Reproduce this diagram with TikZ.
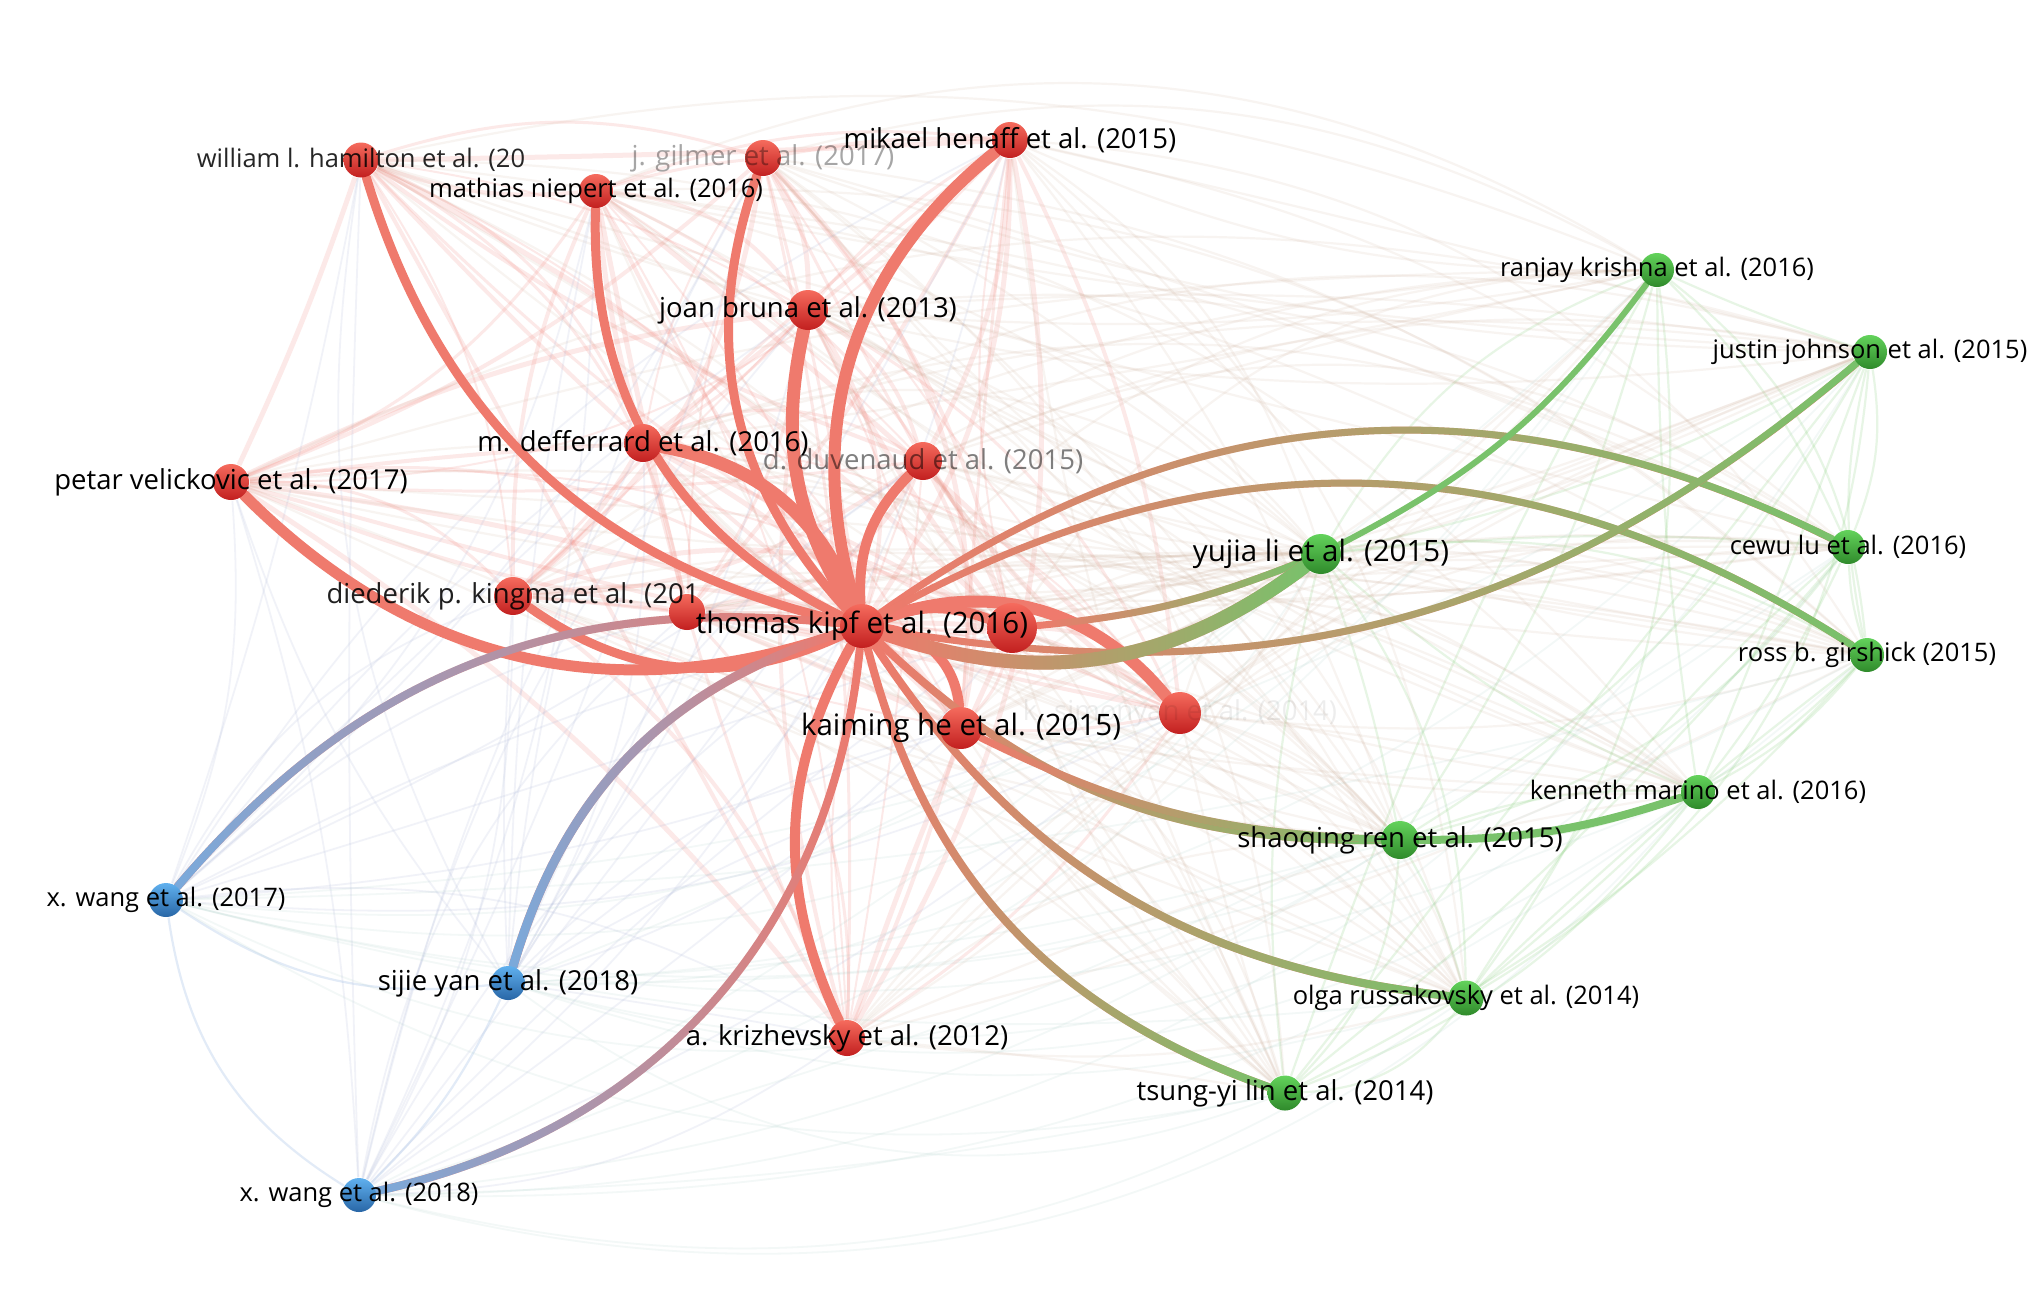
\documentclass[tikz,border=0pt]{standalone}
\usepackage{fontspec}
\setmainfont{Open Sans}
\usetikzlibrary{fadings}
\tikzfading[name=fadeToRight, left color=transparent!100, right color=transparent!0]
\tikzfading[name=fadeToLeft, left color=transparent!0, right color=transparent!100]
\pgfdeclarelayer{bg}
\pgfdeclarelayer{edges}
\pgfsetlayers{bg,edges,main}
\definecolor{nRt}{HTML}{F56B5D}
\definecolor{nRb}{HTML}{C21F1F}
\definecolor{nGt}{HTML}{63D25B}
\definecolor{nGb}{HTML}{2F8A2B}
\definecolor{nBt}{HTML}{60B0EE}
\definecolor{nBb}{HTML}{2866A6}
\definecolor{eR}{HTML}{EF7A6D}
\definecolor{eG}{HTML}{79C26B}
\definecolor{eB}{HTML}{7AAADC}
\definecolor{fR}{HTML}{F07A70}
\definecolor{fG}{HTML}{7CCB70}
\definecolor{fB}{HTML}{8FB0E0}
\definecolor{fRG}{HTML}{C8A890}
\definecolor{fRB}{HTML}{A8B4D8}
\definecolor{fGB}{HTML}{A0C8C0}
\tikzset{
  rn/.style={circle, inner sep=0pt, minimum size=#1*0.25pt, top color=nRt, bottom color=nRb, draw=none},
  rn/.default=34,
  gn/.style={circle, inner sep=0pt, minimum size=#1*0.25pt, top color=nGt, bottom color=nGb, draw=none},
  gn/.default=34,
  bn/.style={circle, inner sep=0pt, minimum size=#1*0.25pt, top color=nBt, bottom color=nBb, draw=none},
  bn/.default=34,
  labS/.style={inner sep=0pt, text=black, font=\fontsize{6.375}{6.5}\selectfont},
  labM/.style={inner sep=0pt, text=black, font=\fontsize{6.875}{7}\selectfont},
  labL/.style={inner sep=0pt, text=black, font=\fontsize{7.375}{7.5}\selectfont},
  strongR/.style={draw=eR, line width=#1*0.25pt, line cap=round},
  strongG/.style={draw=eG, line width=#1*0.25pt, line cap=round},
  faintR/.style={draw=fR, opacity=0.16, line width=#1*0.25pt},
  faintG/.style={draw=fG, opacity=0.18, line width=0.55pt},
  faintB/.style={draw=fB, opacity=0.25, line width=0.55pt},
  faintRG/.style={draw=fRG, opacity=0.12, line width=0.55pt},
  faintRB/.style={draw=fRB, opacity=0.16, line width=0.45pt},
  faintGB/.style={draw=fGB, opacity=0.12, line width=0.45pt},
}
\newcommand{\gradedge}[7]{%
  \draw[draw=#1, line width=#4*0.25pt, line cap=round] (#5) to[#6] (#7);
  \draw[draw=#2, line width=#4*0.25pt, line cap=round, path fading=#3] (#5) to[#6] (#7);}
\def\Rlist{hamilton,gilmer,niepert,henaff,bruna,defferrard,duvenaud,velickovic,kingma,nA,kipf,nB,kaiming,simonyan,krizhevsky}
\def\Glist{yujia,ranjay,justin,cewu,ross,marino,shaoqing,olga,tsung}
\def\Blist{xwangA,sijie,xwangB}
\begin{document}
\begin{tikzpicture}[x=0.25pt,y=-0.25pt]
\useasboundingbox (0,0) rectangle (2042,1298);
\begin{pgfonlayer}{bg}
\fill[white] (0,0) rectangle (2042,1298);
\end{pgfonlayer}
% ---------- nodes ----------
\node[rn=35] (hamilton) at (361,160) {};
\node[rn=36] (gilmer) at (763,158) {};
\node[rn=34] (niepert) at (596,191) {};
\node[rn=36] (henaff) at (1010,140) {};
\node[rn=40] (bruna) at (808,310) {};
\node[rn=38] (defferrard) at (643,443) {};
\node[rn=38] (duvenaud) at (923,461) {};
\node[rn=36] (velickovic) at (231,482) {};
\node[rn=38] (kingma) at (513,596) {};
\node[rn=36] (nA) at (687,612) {};
\node[rn=44] (kipf) at (862,626) {};
\node[rn=50] (nB) at (1012,628) {};
\node[rn=42] (kaiming) at (961,728) {};
\node[rn=42] (simonyan) at (1180,713) {};
\node[rn=36] (krizhevsky) at (847,1038) {};
\node[gn=40] (yujia) at (1321,554) {};
\node[gn=34] (ranjay) at (1657,270) {};
\node[gn=34] (justin) at (1870,352) {};
\node[gn=34] (cewu) at (1848,547) {};
\node[gn=34] (ross) at (1867,655) {};
\node[gn=34] (marino) at (1698,792) {};
\node[gn=38] (shaoqing) at (1400,840) {};
\node[gn=35] (olga) at (1466,998) {};
\node[gn=35] (tsung) at (1285,1093) {};
\node[bn=34] (xwangA) at (166,900) {};
\node[bn=34] (sijie) at (508,983) {};
\node[bn=34] (xwangB) at (359,1195) {};
% ---------- labels ----------
\node[labS, text opacity=0.85] (hamilton-l) at (hamilton) {william l. hamilton et al. (20};
\node[labM, text opacity=0.35] (gilmer-l) at (gilmer) {j. gilmer et al. (2017)};
\node[labS] (niepert-l) at (niepert) {mathias niepert et al. (2016)};
\node[labM] (henaff-l) at (henaff) {mikael henaff et al. (2015)};
\node[labM] (bruna-l) at (bruna) {joan bruna et al. (2013)};
\node[labM] (defferrard-l) at (defferrard) {m. defferrard et al. (2016)};
\node[labM, text opacity=0.5] (duvenaud-l) at (duvenaud) {d. duvenaud et al. (2015)};
\node[labM] (velickovic-l) at (velickovic) {petar velickovic et al. (2017)};
\node[labM, text opacity=0.88] (kingma-l) at (kingma) {diederik p. kingma et al. (201};
\node[labL] (kipf-l) at (kipf) {thomas kipf et al. (2016)};
\node[labL] (kaiming-l) at (kaiming) {kaiming he et al. (2015)};
\node[labM, text opacity=0.07] (simonyan-l) at (simonyan) {k. simonyan et al. (2014)};
\node[labM] (krizhevsky-l) at (krizhevsky) {a. krizhevsky et al. (2012)};
\node[labL] (yujia-l) at (yujia) {yujia li et al. (2015)};
\node[labS] (ranjay-l) at (ranjay) {ranjay krishna et al. (2016)};
\node[labS] (justin-l) at (justin) {justin johnson et al. (2015)};
\node[labS] (cewu-l) at (cewu) {cewu lu et al. (2016)};
\node[labS] (ross-l) at (ross) {ross b. girshick (2015)};
\node[labS] (marino-l) at (marino) {kenneth marino et al. (2016)};
\node[labM] (shaoqing-l) at (shaoqing) {shaoqing ren et al. (2015)};
\node[labS] (olga-l) at (olga) {olga russakovsky et al. (2014)};
\node[labM] (tsung-l) at (tsung) {tsung-yi lin et al. (2014)};
\node[labS] (xwangA-l) at (xwangA) {x. wang et al. (2017)};
\node[labM] (sijie-l) at (sijie) {sijie yan et al. (2018)};
\node[labS] (xwangB-l) at (xwangB) {x. wang et al. (2018)};
% ---------- edges ----------
\begin{pgfonlayer}{edges}
\foreach \a [count=\i] in \Rlist {
  \foreach \b [count=\j] in \Rlist {
    \ifnum\j>\i
      \pgfmathtruncatemacro{\bb}{mod(\i*7+\j*11,40)-12}
      \pgfmathtruncatemacro{\ww}{mod(\i*3+\j*5,4)+2}
      \draw[faintR=\ww] (\a) to[bend left=\bb] (\b);
    \fi
  }
}
\foreach \a [count=\i] in \Glist {
  \foreach \b [count=\j] in \Glist {
    \ifnum\j>\i
      \pgfmathtruncatemacro{\bb}{mod(\i*5+\j*13,40)-12}
      \draw[faintG] (\a) to[bend left=\bb] (\b);
    \fi
  }
}
\draw[faintB] (xwangA) to[bend right=20] (sijie);
\draw[faintB] (xwangA) to[bend right=25] (xwangB);
\draw[faintB] (sijie) to[bend left=10] (xwangB);
\foreach \a [count=\i] in \Rlist {
  \foreach \b [count=\j] in \Glist {
    \pgfmathtruncatemacro{\bb}{mod(\i*5+\j*13,44)-14}
    \draw[faintRG] (\a) to[bend left=\bb] (\b);
  }
}
\foreach \a [count=\i] in \Rlist {
  \foreach \b [count=\j] in \Blist {
    \pgfmathtruncatemacro{\bb}{mod(\i*7+\j*17,40)-20}
    \draw[faintRB] (\a) to[bend left=\bb] (\b);
  }
}
\foreach \a [count=\i] in \Glist {
  \foreach \b [count=\j] in \Blist {
    \pgfmathtruncatemacro{\bb}{mod(\i*11+\j*7,30)+5}
    \draw[faintGB] (\b) to[bend right=\bb] (\a);
  }
}
% strong red links
\draw[strongR=9] (kipf) to[bend left=30] (hamilton);
\draw[strongR=9] (kipf) to[bend left=33] (niepert);
\draw[strongR=9] (kipf) to[bend left=31] (gilmer);
\draw[strongR=12] (kipf) to[bend left=34] (henaff);
\draw[strongR=13] (kipf) to[bend left=22] (bruna);
\draw[strongR=13] (kipf) to[bend right=29] (defferrard);
\draw[strongR=10] (kipf) to[bend left=24] (duvenaud);
\draw[strongR=11] (kipf) to[bend left=32] (velickovic);
\draw[strongR=9] (kipf) to[bend left=30] (kingma);
\draw[strongR=12] (kipf) to[bend left=35] (simonyan);
\draw[strongR=10] (kipf) to[bend left=39] (kaiming);
\draw[strongR=10] (kipf) to[bend left=20] (nB);
\draw[strongR=10] (kipf) to[bend right=27] (krizhevsky);
% mixed links
\gradedge{eR}{eB}{fadeToLeft}{8}{kipf}{bend left=36}{xwangB}
\gradedge{eR}{eB}{fadeToLeft}{9}{kipf}{bend right=28}{sijie}
\gradedge{eR}{eB}{fadeToLeft}{8}{kipf}{bend right=28}{xwangA}
\gradedge{eR}{eG}{fadeToRight}{8}{kipf}{bend right=22}{shaoqing}
\gradedge{eR}{eG}{fadeToRight}{7}{kaiming}{bend right=12}{shaoqing}
\gradedge{eR}{eG}{fadeToRight}{8}{kipf}{bend right=25}{olga}
\gradedge{eR}{eG}{fadeToRight}{8}{kipf}{bend right=28}{tsung}
\gradedge{eR}{eG}{fadeToRight}{7}{kipf}{bend left=31}{cewu}
\gradedge{eR}{eG}{fadeToRight}{7}{kipf}{bend left=31}{ross}
\gradedge{eR}{eG}{fadeToRight}{7}{kipf}{bend right=25}{justin}
\gradedge{eR}{eG}{fadeToRight}{7}{nB}{bend right=8}{yujia}
\gradedge{eR}{eG}{fadeToRight}{14}{kipf}{bend right=28}{yujia}
% strong green links
\draw[strongG=6] (ranjay) to[bend left=13] (yujia);
\draw[strongG=8] (shaoqing) to[bend right=9] (marino);
\end{pgfonlayer}
\end{tikzpicture}
\end{document}
